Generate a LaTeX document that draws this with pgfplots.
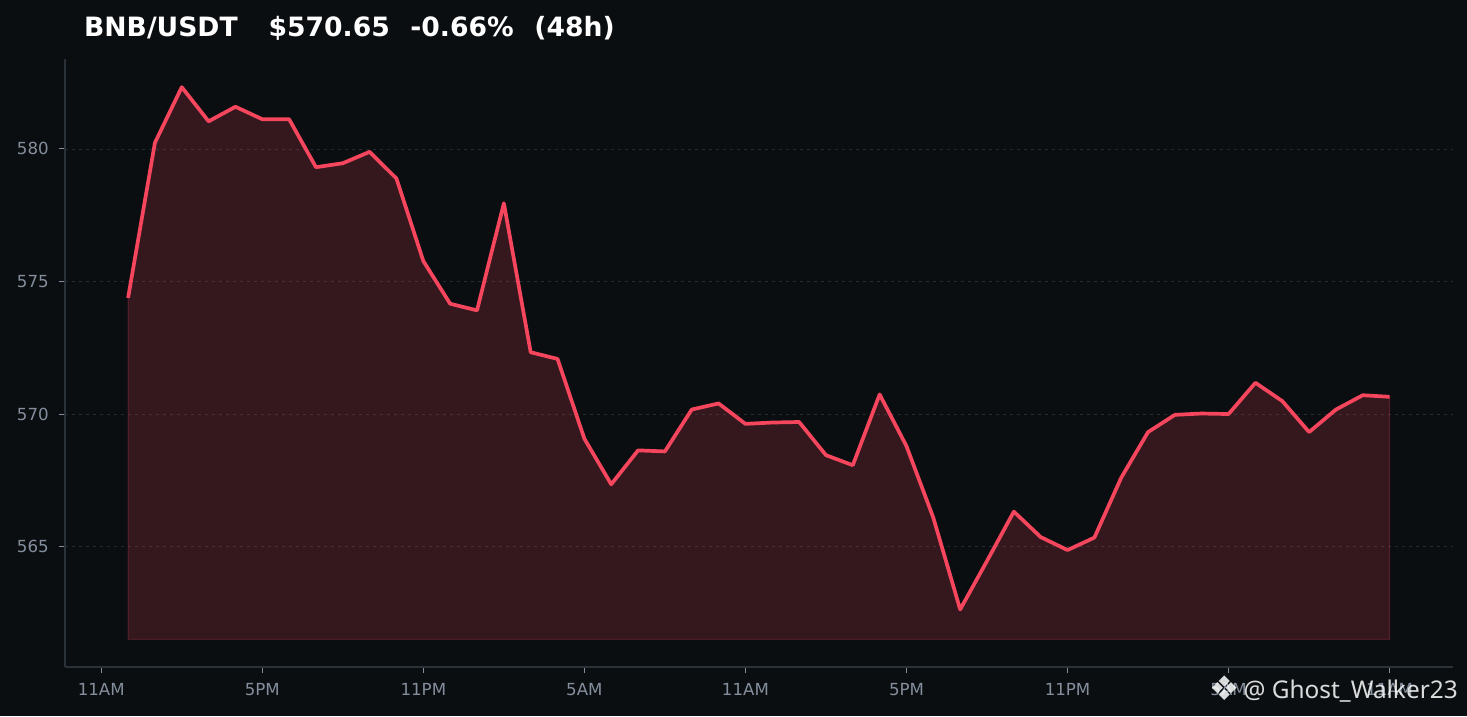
\documentclass[border=0pt]{standalone}
\usepackage{pgfplots}
\pgfplotsset{compat=1.18}
\usepackage{pgfplotstable}
\usepgfplotslibrary{fillbetween}
\usepackage{fontspec}
\setmainfont{DejaVu Sans}
\newfontfamily\wmfont{Noto Sans}
\definecolor{bg}{HTML}{0B0E11}
\definecolor{spine}{HTML}{2B3139}
\definecolor{tickc}{HTML}{848E9C}
\definecolor{gridc}{HTML}{252A31}
\definecolor{bnbred}{HTML}{F6465D}
\pgfplotstableread{
h p
1 574.38
2 580.23
3 582.33
4 581.04
5 581.59
6 581.12
7 581.12
8 579.31
9 579.46
10 579.89
11 578.88
12 575.77
13 574.16
14 573.91
15 577.95
16 572.33
17 572.08
18 569.07
19 567.35
20 568.63
21 568.59
22 570.17
23 570.40
24 569.63
25 569.68
26 569.70
27 568.45
28 568.07
29 570.74
30 568.79
31 566.09
32 562.63
33 564.46
34 566.32
35 565.36
36 564.87
37 565.34
38 567.60
39 569.32
40 569.97
41 570.02
42 570.00
43 571.18
44 570.49
45 569.32
46 570.17
47 570.71
48 570.65
}\pricetable
\begin{document}
\begin{tikzpicture}
\begin{axis}[
  at={(0,0)}, anchor=south west,
  scale only axis,
  width=1387.7bp, height=607.7bp,
  xmin=-1.35, xmax=50.35,
  ymin=560.46, ymax=583.38,
  axis x line*=bottom, axis y line*=left,
  axis line style={draw=spine, line width=1.2bp, -},
  xtick={0,6,...,48},
  xticklabels={11AM,5PM,11PM,5AM,11AM,5PM,11PM,5AM,11AM},
  ytick={565,570,575,580},
  tick align=outside,
  major tick length=5.8bp,
  tick style={draw=tickc, line width=1bp},
  ymajorgrids,
  major grid style={draw=gridc, line width=0.8bp, dash pattern=on 3.5bp off 3.5bp},
  ticklabel style={font=\fontsize{16.7}{20}\selectfont, text=tickc},
  xticklabel style={yshift=-7bp},
  yticklabel style={xshift=-7bp},
  /pgf/number format/assume math mode=true,
  clip=false,
]
\begin{pgfonlayer}{axis background}
\fill[bg] ([xshift=-65bp,yshift=-49.3bp]rel axis cs:0,0) rectangle ([xshift=14.3bp,yshift=59.3bp]rel axis cs:1,1);
\end{pgfonlayer}
\addplot[draw=none, name path=base, forget plot] coordinates {(1,561.5) (48,561.5)};
\addplot[bnbred, line width=3.7bp, line join=round, name path=price] table[x=h, y=p] {\pricetable};
\addplot[fill=bnbred, fill opacity=0.18, draw=bnbred, draw opacity=0.22, line width=1bp] fill between[of=price and base];
\end{axis}
\node[anchor=base west, text=white, inner sep=0pt, font=\fontsize{26.7}{30}\selectfont\bfseries] at (19bp,630.7bp) {BNB/USDT\hspace*{31bp}\$570.65\hspace*{20.6bp}-0.66\%\hspace*{20.6bp}(48h)};
\node[anchor=base east, text=white, text opacity=0.85, inner sep=0pt, font=\fontsize{24.5}{28}\selectfont] at (1393bp,-31.3bp) {\raisebox{-2bp}{\fontsize{34}{36}\selectfont ❖}\,{\wmfont @ Ghost\_Walker23}};
\end{tikzpicture}
\end{document}
